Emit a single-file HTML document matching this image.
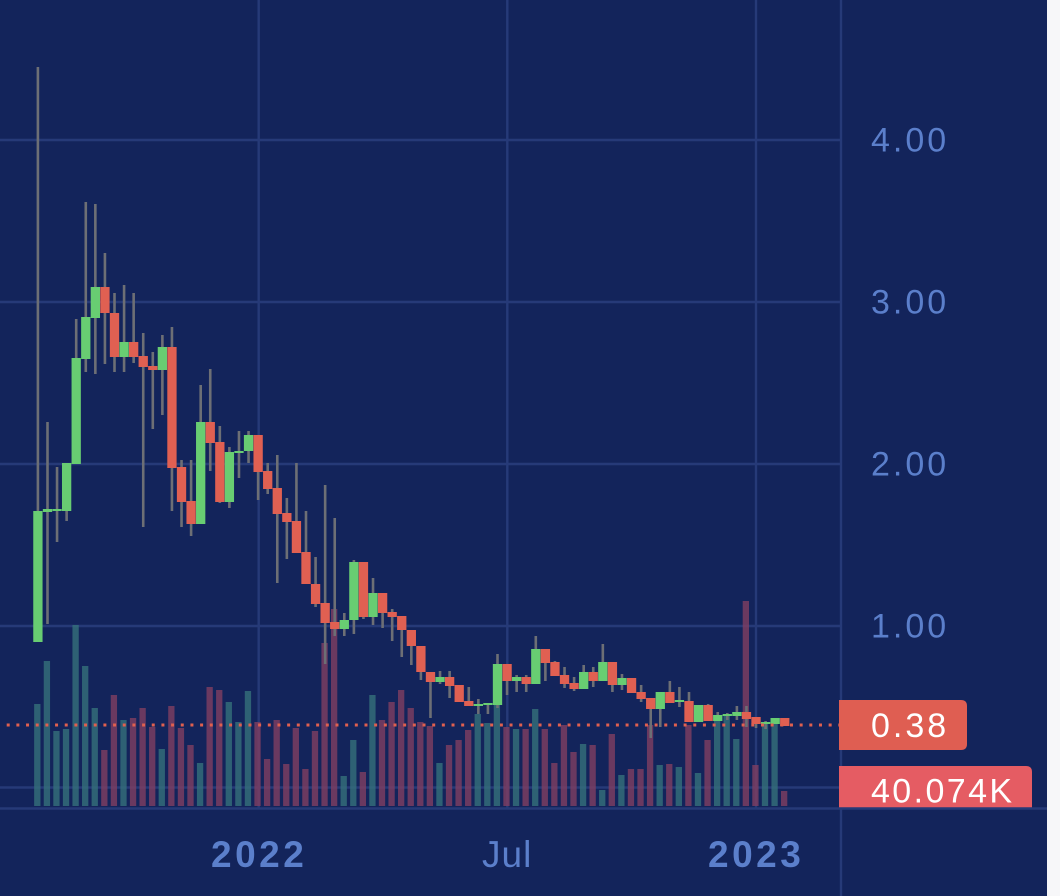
<!DOCTYPE html>
<html><head><meta charset="utf-8"><style>
html,body{margin:0;padding:0;background:#13245b;width:1060px;height:896px;overflow:hidden}
svg{display:block}
.w{fill:#6d6f75}.g{fill:#68cd72}.r{fill:#e06052}
.vt{fill:#36717a;fill-opacity:.8}.vm{fill:#813f61;fill-opacity:.8}
.gl{stroke:#263a78;stroke-width:2.4}
.pl{font-family:"Liberation Sans",sans-serif;font-size:34px;fill:#5b7fcb;letter-spacing:3px}
.tl{font-family:"Liberation Sans",sans-serif;font-size:37px;fill:#5b7fcb}
</style></head><body>
<svg width="1060" height="896" viewBox="0 0 1060 896" xmlns="http://www.w3.org/2000/svg">
<rect x="0" y="0" width="1060" height="896" fill="#13245b"/>
<rect x="1047" y="0" width="13" height="896" fill="#f7f7f9"/>
<g class="gl">
<line x1="0" y1="140" x2="841" y2="140"/>
<line x1="0" y1="302" x2="841" y2="302"/>
<line x1="0" y1="464" x2="841" y2="464"/>
<line x1="0" y1="626" x2="841" y2="626"/>
<line x1="0" y1="787.5" x2="841" y2="787.5"/>
<line x1="258.7" y1="0" x2="258.7" y2="808"/>
<line x1="507.3" y1="0" x2="507.3" y2="808"/>
<line x1="756" y1="0" x2="756" y2="808"/>
</g>
<g>
<rect class="vt" x="34.15" y="704" width="6.3" height="102"/>
<rect class="vt" x="43.75" y="661" width="6.3" height="145"/>
<rect class="vt" x="53.3" y="731" width="6.3" height="75"/>
<rect class="vt" x="62.88" y="729" width="6.3" height="77"/>
<rect class="vt" x="72.45" y="625" width="6.3" height="181"/>
<rect class="vt" x="82.03" y="666" width="6.3" height="140"/>
<rect class="vt" x="91.6" y="708" width="6.3" height="98"/>
<rect class="vm" x="101.18" y="750" width="6.3" height="56"/>
<rect class="vm" x="110.75" y="695" width="6.3" height="111"/>
<rect class="vt" x="120.33" y="720" width="6.3" height="86"/>
<rect class="vm" x="129.9" y="718" width="6.3" height="88"/>
<rect class="vm" x="139.48" y="708" width="6.3" height="98"/>
<rect class="vm" x="149.05" y="727" width="6.3" height="79"/>
<rect class="vt" x="158.63" y="749" width="6.3" height="57"/>
<rect class="vm" x="168.2" y="706" width="6.3" height="100"/>
<rect class="vm" x="177.78" y="728" width="6.3" height="78"/>
<rect class="vm" x="187.35" y="745" width="6.3" height="61"/>
<rect class="vt" x="196.93" y="763" width="6.3" height="43"/>
<rect class="vm" x="206.5" y="687" width="6.3" height="119"/>
<rect class="vm" x="216.08" y="690" width="6.3" height="116"/>
<rect class="vt" x="225.65" y="702" width="6.3" height="104"/>
<rect class="vt" x="235.23" y="722" width="6.3" height="84"/>
<rect class="vt" x="244.8" y="691" width="6.3" height="115"/>
<rect class="vm" x="254.38" y="722" width="6.3" height="84"/>
<rect class="vm" x="263.95" y="759" width="6.3" height="47"/>
<rect class="vm" x="273.53" y="720" width="6.3" height="86"/>
<rect class="vm" x="283.1" y="764" width="6.3" height="42"/>
<rect class="vm" x="292.68" y="728" width="6.3" height="78"/>
<rect class="vm" x="302.25" y="769" width="6.3" height="37"/>
<rect class="vm" x="311.83" y="731" width="6.3" height="75"/>
<rect class="vm" x="321.4" y="643" width="6.3" height="163"/>
<rect class="vm" x="330.98" y="609" width="6.3" height="197"/>
<rect class="vt" x="340.55" y="776" width="6.3" height="30"/>
<rect class="vt" x="350.13" y="740" width="6.3" height="66"/>
<rect class="vm" x="359.7" y="772" width="6.3" height="34"/>
<rect class="vt" x="369.28" y="695" width="6.3" height="111"/>
<rect class="vm" x="378.85" y="720" width="6.3" height="86"/>
<rect class="vm" x="388.43" y="702" width="6.3" height="104"/>
<rect class="vm" x="398" y="690" width="6.3" height="116"/>
<rect class="vm" x="407.58" y="708" width="6.3" height="98"/>
<rect class="vm" x="417.15" y="722" width="6.3" height="84"/>
<rect class="vm" x="426.73" y="726" width="6.3" height="80"/>
<rect class="vt" x="436.3" y="763" width="6.3" height="43"/>
<rect class="vm" x="445.88" y="745" width="6.3" height="61"/>
<rect class="vm" x="455.45" y="740" width="6.3" height="66"/>
<rect class="vm" x="465.03" y="730" width="6.3" height="76"/>
<rect class="vt" x="474.6" y="714" width="6.3" height="92"/>
<rect class="vt" x="484.18" y="723" width="6.3" height="83"/>
<rect class="vt" x="493.75" y="705" width="6.3" height="101"/>
<rect class="vm" x="503.33" y="727" width="6.3" height="79"/>
<rect class="vt" x="512.9" y="729" width="6.3" height="77"/>
<rect class="vm" x="522.48" y="729" width="6.3" height="77"/>
<rect class="vt" x="532.05" y="709" width="6.3" height="97"/>
<rect class="vm" x="541.63" y="729" width="6.3" height="77"/>
<rect class="vm" x="551.2" y="763" width="6.3" height="43"/>
<rect class="vm" x="560.78" y="725" width="6.3" height="81"/>
<rect class="vm" x="570.35" y="752" width="6.3" height="54"/>
<rect class="vt" x="579.93" y="744" width="6.3" height="62"/>
<rect class="vm" x="589.5" y="745" width="6.3" height="61"/>
<rect class="vt" x="599.08" y="790" width="6.3" height="16"/>
<rect class="vm" x="608.65" y="734" width="6.3" height="72"/>
<rect class="vt" x="618.23" y="775" width="6.3" height="31"/>
<rect class="vm" x="627.8" y="769" width="6.3" height="37"/>
<rect class="vm" x="637.38" y="769" width="6.3" height="37"/>
<rect class="vm" x="646.95" y="725" width="6.3" height="81"/>
<rect class="vt" x="656.53" y="765" width="6.3" height="41"/>
<rect class="vm" x="666.1" y="764" width="6.3" height="42"/>
<rect class="vt" x="675.68" y="767" width="6.3" height="39"/>
<rect class="vm" x="685.25" y="725" width="6.3" height="81"/>
<rect class="vt" x="694.83" y="773" width="6.3" height="33"/>
<rect class="vm" x="704.4" y="740" width="6.3" height="66"/>
<rect class="vt" x="713.98" y="718" width="6.3" height="88"/>
<rect class="vt" x="723.55" y="714" width="6.3" height="92"/>
<rect class="vt" x="733.13" y="739" width="6.3" height="67"/>
<rect class="vm" x="742.7" y="601" width="6.3" height="205"/>
<rect class="vm" x="752.28" y="765" width="6.3" height="41"/>
<rect class="vt" x="761.85" y="722" width="6.3" height="84"/>
<rect class="vt" x="771.43" y="724" width="6.3" height="82"/>
<rect class="vm" x="781" y="791" width="6.3" height="15"/>
</g>
<g transform="translate(0.6,0)">
<rect class="w" x="36" y="67" width="2.6" height="575"/><rect class="g" x="32.65" y="511" width="9.3" height="131"/>
<rect class="w" x="45.6" y="422" width="2.6" height="202"/><rect class="g" x="42.25" y="509" width="9.3" height="3"/>
<rect class="w" x="55.15" y="467" width="2.6" height="75"/><rect class="g" x="51.8" y="509" width="9.3" height="2"/>
<rect class="w" x="64.73" y="463" width="2.6" height="58"/><rect class="g" x="61.38" y="463" width="9.3" height="48"/>
<rect class="w" x="74.3" y="319" width="2.6" height="145"/><rect class="g" x="70.95" y="358" width="9.3" height="106"/>
<rect class="w" x="83.88" y="202" width="2.6" height="170"/><rect class="g" x="80.53" y="317" width="9.3" height="42"/>
<rect class="w" x="93.45" y="204" width="2.6" height="170"/><rect class="g" x="90.1" y="287" width="9.3" height="31"/>
<rect class="w" x="103.03" y="253" width="2.6" height="111"/><rect class="r" x="99.68" y="287" width="9.3" height="26"/>
<rect class="w" x="112.6" y="293" width="2.6" height="79"/><rect class="r" x="109.25" y="313" width="9.3" height="44"/>
<rect class="w" x="122.18" y="285" width="2.6" height="87"/><rect class="g" x="118.83" y="342" width="9.3" height="15"/>
<rect class="w" x="131.75" y="293" width="2.6" height="70"/><rect class="r" x="128.4" y="342" width="9.3" height="15"/>
<rect class="w" x="141.33" y="333" width="2.6" height="194"/><rect class="r" x="137.98" y="356" width="9.3" height="11"/>
<rect class="w" x="150.9" y="352" width="2.6" height="77"/><rect class="r" x="147.55" y="366" width="9.3" height="4"/>
<rect class="w" x="160.48" y="335" width="2.6" height="80"/><rect class="g" x="157.13" y="347" width="9.3" height="23"/>
<rect class="w" x="170.05" y="327" width="2.6" height="184"/><rect class="r" x="166.7" y="347" width="9.3" height="121"/>
<rect class="w" x="179.63" y="460" width="2.6" height="67"/><rect class="r" x="176.28" y="467" width="9.3" height="35"/>
<rect class="w" x="189.2" y="460" width="2.6" height="76"/><rect class="r" x="185.85" y="501" width="9.3" height="23"/>
<rect class="w" x="198.78" y="385" width="2.6" height="139"/><rect class="g" x="195.43" y="422" width="9.3" height="102"/>
<rect class="w" x="208.35" y="369" width="2.6" height="102"/><rect class="r" x="205" y="422" width="9.3" height="21"/>
<rect class="w" x="217.93" y="426" width="2.6" height="77"/><rect class="r" x="214.58" y="442" width="9.3" height="60"/>
<rect class="w" x="227.5" y="447" width="2.6" height="61"/><rect class="g" x="224.15" y="452" width="9.3" height="50"/>
<rect class="w" x="237.08" y="431" width="2.6" height="47"/><rect class="g" x="233.73" y="451" width="9.3" height="2"/>
<rect class="w" x="246.65" y="431" width="2.6" height="32"/><rect class="g" x="243.3" y="435" width="9.3" height="16"/>
<rect class="w" x="256.23" y="435" width="2.6" height="65"/><rect class="r" x="252.88" y="435" width="9.3" height="37"/>
<rect class="w" x="265.8" y="463" width="2.6" height="31"/><rect class="r" x="262.45" y="471" width="9.3" height="18"/>
<rect class="w" x="275.38" y="455" width="2.6" height="128"/><rect class="r" x="272.03" y="488" width="9.3" height="26"/>
<rect class="w" x="284.95" y="498" width="2.6" height="61"/><rect class="r" x="281.6" y="513" width="9.3" height="9"/>
<rect class="w" x="294.53" y="463" width="2.6" height="90"/><rect class="r" x="291.18" y="521" width="9.3" height="32"/>
<rect class="w" x="304.1" y="511" width="2.6" height="73"/><rect class="r" x="300.75" y="552" width="9.3" height="32"/>
<rect class="w" x="313.68" y="557" width="2.6" height="50"/><rect class="r" x="310.33" y="584" width="9.3" height="20"/>
<rect class="w" x="323.25" y="485" width="2.6" height="179"/><rect class="r" x="319.9" y="603" width="9.3" height="20"/>
<rect class="w" x="332.83" y="518" width="2.6" height="118"/><rect class="r" x="329.48" y="622" width="9.3" height="7"/>
<rect class="w" x="342.4" y="613" width="2.6" height="23"/><rect class="g" x="339.05" y="620" width="9.3" height="9"/>
<rect class="w" x="351.98" y="560" width="2.6" height="74"/><rect class="g" x="348.63" y="562" width="9.3" height="58"/>
<rect class="w" x="361.55" y="562" width="2.6" height="57"/><rect class="r" x="358.2" y="562" width="9.3" height="55"/>
<rect class="w" x="371.13" y="578" width="2.6" height="47"/><rect class="g" x="367.78" y="593" width="9.3" height="24"/>
<rect class="w" x="380.7" y="593" width="2.6" height="35"/><rect class="r" x="377.35" y="593" width="9.3" height="20"/>
<rect class="w" x="390.28" y="609" width="2.6" height="32"/><rect class="r" x="386.93" y="612" width="9.3" height="5"/>
<rect class="w" x="399.85" y="616" width="2.6" height="41"/><rect class="r" x="396.5" y="616" width="9.3" height="14"/>
<rect class="w" x="409.43" y="630" width="2.6" height="35"/><rect class="r" x="406.08" y="630" width="9.3" height="16"/>
<rect class="w" x="419" y="646" width="2.6" height="34"/><rect class="r" x="415.65" y="646" width="9.3" height="26"/>
<rect class="w" x="428.58" y="672" width="2.6" height="46"/><rect class="r" x="425.23" y="672" width="9.3" height="10"/>
<rect class="w" x="438.15" y="671" width="2.6" height="13"/><rect class="g" x="434.8" y="677" width="9.3" height="5"/>
<rect class="w" x="447.73" y="671" width="2.6" height="27"/><rect class="r" x="444.38" y="677" width="9.3" height="9"/>
<rect class="w" x="457.3" y="685" width="2.6" height="17"/><rect class="r" x="453.95" y="685" width="9.3" height="17"/>
<rect class="w" x="466.88" y="687" width="2.6" height="19"/><rect class="r" x="463.53" y="701" width="9.3" height="5"/>
<rect class="w" x="476.45" y="699" width="2.6" height="15"/><rect class="g" x="473.1" y="704" width="9.3" height="2"/>
<rect class="w" x="486.03" y="703" width="2.6" height="11"/><rect class="g" x="482.68" y="703" width="9.3" height="2"/>
<rect class="w" x="495.6" y="654" width="2.6" height="54"/><rect class="g" x="492.25" y="664" width="9.3" height="41"/>
<rect class="w" x="505.18" y="664" width="2.6" height="31"/><rect class="r" x="501.83" y="664" width="9.3" height="17"/>
<rect class="w" x="514.75" y="675" width="2.6" height="17"/><rect class="g" x="511.4" y="677" width="9.3" height="4"/>
<rect class="w" x="524.33" y="675" width="2.6" height="17"/><rect class="r" x="520.98" y="677" width="9.3" height="7"/>
<rect class="w" x="533.9" y="636" width="2.6" height="48"/><rect class="g" x="530.55" y="649" width="9.3" height="35"/>
<rect class="w" x="543.48" y="649" width="2.6" height="32"/><rect class="r" x="540.13" y="649" width="9.3" height="14"/>
<rect class="w" x="553.05" y="661" width="2.6" height="15"/><rect class="r" x="549.7" y="662" width="9.3" height="14"/>
<rect class="w" x="562.63" y="667" width="2.6" height="21"/><rect class="r" x="559.28" y="675" width="9.3" height="9"/>
<rect class="w" x="572.2" y="677" width="2.6" height="14"/><rect class="r" x="568.85" y="683" width="9.3" height="6"/>
<rect class="w" x="581.78" y="665" width="2.6" height="24"/><rect class="g" x="578.43" y="672" width="9.3" height="17"/>
<rect class="w" x="591.35" y="667" width="2.6" height="20"/><rect class="r" x="588" y="672" width="9.3" height="9"/>
<rect class="w" x="600.93" y="644" width="2.6" height="37"/><rect class="g" x="597.58" y="662" width="9.3" height="19"/>
<rect class="w" x="610.5" y="662" width="2.6" height="30"/><rect class="r" x="607.15" y="662" width="9.3" height="23"/>
<rect class="w" x="620.08" y="674" width="2.6" height="16"/><rect class="g" x="616.73" y="678" width="9.3" height="7"/>
<rect class="w" x="629.65" y="678" width="2.6" height="15"/><rect class="r" x="626.3" y="678" width="9.3" height="15"/>
<rect class="w" x="639.23" y="685" width="2.6" height="17"/><rect class="r" x="635.88" y="692" width="9.3" height="7"/>
<rect class="w" x="648.8" y="698" width="2.6" height="40"/><rect class="r" x="645.45" y="698" width="9.3" height="11"/>
<rect class="w" x="658.38" y="692" width="2.6" height="35"/><rect class="g" x="655.03" y="692" width="9.3" height="17"/>
<rect class="w" x="667.95" y="681" width="2.6" height="22"/><rect class="r" x="664.6" y="692" width="9.3" height="11"/>
<rect class="w" x="677.53" y="687" width="2.6" height="20"/><rect class="g" x="674.18" y="700" width="9.3" height="2"/>
<rect class="w" x="687.1" y="692" width="2.6" height="30"/><rect class="r" x="683.75" y="701" width="9.3" height="21"/>
<rect class="w" x="696.68" y="705" width="2.6" height="17"/><rect class="g" x="693.33" y="705" width="9.3" height="17"/>
<rect class="w" x="706.25" y="704" width="2.6" height="17"/><rect class="r" x="702.9" y="705" width="9.3" height="16"/>
<rect class="w" x="715.83" y="712" width="2.6" height="9"/><rect class="g" x="712.48" y="715" width="9.3" height="6"/>
<rect class="w" x="725.4" y="713" width="2.6" height="7"/><rect class="g" x="722.05" y="714" width="9.3" height="2"/>
<rect class="w" x="734.98" y="706" width="2.6" height="14"/><rect class="g" x="731.63" y="712" width="9.3" height="4"/>
<rect class="w" x="744.55" y="706" width="2.6" height="21"/><rect class="r" x="741.2" y="712" width="9.3" height="7"/>
<rect class="w" x="754.13" y="717" width="2.6" height="11"/><rect class="r" x="750.78" y="717" width="9.3" height="7"/>
<rect class="w" x="763.7" y="721" width="2.6" height="8"/><rect class="g" x="760.35" y="722" width="9.3" height="2"/>
<rect class="w" x="773.28" y="718" width="2.6" height="6"/><rect class="g" x="769.93" y="718" width="9.3" height="6"/>
<rect class="w" x="782.85" y="718" width="2.6" height="8"/><rect class="r" x="779.5" y="718" width="9.3" height="8"/>
</g>
<line x1="6.7" y1="725" x2="840" y2="725" stroke="#e0604f" stroke-width="3" stroke-dasharray="3 6.67"/>
<line x1="841" y1="0" x2="841" y2="896" stroke="#263a78" stroke-width="2.4"/>
<path d="M839 700 H961 Q967 700 967 706 V744 Q967 750 961 750 H839 Z" fill="#df5e52"/>
<path d="M839 766 H1026 Q1032 766 1032 772 V808 H839 Z" fill="#e55c63"/>
<line x1="0" y1="808.5" x2="1047" y2="808.5" stroke="#263a78" stroke-width="2.4"/>
<text class="pl" x="871" y="151.7">4.00</text>
<text class="pl" x="871" y="313.7">3.00</text>
<text class="pl" x="871" y="475.7">2.00</text>
<text class="pl" x="871" y="637.7">1.00</text>
<text class="pl" x="871" y="737" style="fill:#ffffff">0.38</text>
<text class="pl" x="871" y="802.7" style="fill:#ffffff;letter-spacing:2.4px">40.074K</text>
<text class="tl" x="211" y="867" font-weight="bold" style="letter-spacing:3.5px">2022</text>
<text class="tl" x="482" y="867" style="letter-spacing:1px">Jul</text>
<text class="tl" x="708" y="867" font-weight="bold" style="letter-spacing:3.5px">2023</text>
</svg>
</body></html>
